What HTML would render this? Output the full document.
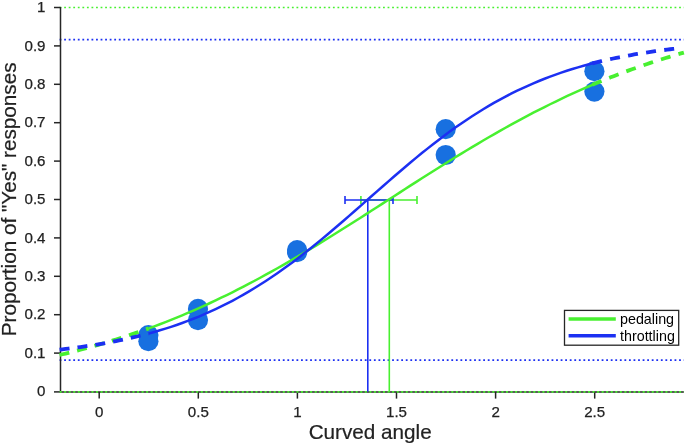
<!DOCTYPE html>
<html><head><meta charset="utf-8"><title>Psychometric curves</title>
<style>html,body{margin:0;padding:0;background:#fff}svg{display:block}</style></head>
<body>
<svg width="685" height="443" viewBox="0 0 685 443">
<rect width="685" height="443" fill="#fff"/>
<line x1="59.6" x2="683.9" y1="7.5" y2="7.5" stroke="#48f030" stroke-width="1.7" stroke-dasharray="1.8 2.755"/>
<line x1="59.6" x2="683.9" y1="39.6" y2="39.6" stroke="#1c30f2" stroke-width="1.7" stroke-dasharray="1.8 2.755"/>
<line x1="59.6" x2="683.9" y1="360.2" y2="360.2" stroke="#1c30f2" stroke-width="1.7" stroke-dasharray="1.8 2.755"/>
<g stroke="#262626" stroke-width="1.5" fill="none">
<path d="M60.5,7 V391.9 H683.9"/>
<path d="M54,391.9 H60.5"/>
<path d="M54,353.1 H60.5"/>
<path d="M54,314.7 H60.5"/>
<path d="M54,276.3 H60.5"/>
<path d="M54,237.9 H60.5"/>
<path d="M54,199.5 H60.5"/>
<path d="M54,161.1 H60.5"/>
<path d="M54,122.7 H60.5"/>
<path d="M54,84.3 H60.5"/>
<path d="M54,45.9 H60.5"/>
<path d="M54,7.5 H60.5"/>
<path d="M99.2,391.9 V398.6"/>
<path d="M198.3,391.9 V398.6"/>
<path d="M297.4,391.9 V398.6"/>
<path d="M396.5,391.9 V398.6"/>
<path d="M495.6,391.9 V398.6"/>
<path d="M594.7,391.9 V398.6"/>
</g>
<line x1="59.6" x2="683.9" y1="391.9" y2="391.9" stroke="#48f030" stroke-width="1.7" stroke-dasharray="2 2.555"/>
<g font-family="&quot;Liberation Sans&quot;, Arial, sans-serif" font-size="15.1" fill="#222" stroke="#222" stroke-width="0.25">
<text x="45.5" y="396.1" text-anchor="end">0</text>
<text x="45.5" y="357.7" text-anchor="end">0.1</text>
<text x="45.5" y="319.3" text-anchor="end">0.2</text>
<text x="45.5" y="280.9" text-anchor="end">0.3</text>
<text x="45.5" y="242.5" text-anchor="end">0.4</text>
<text x="45.5" y="204.1" text-anchor="end">0.5</text>
<text x="45.5" y="165.7" text-anchor="end">0.6</text>
<text x="45.5" y="127.3" text-anchor="end">0.7</text>
<text x="45.5" y="88.9" text-anchor="end">0.8</text>
<text x="45.5" y="50.5" text-anchor="end">0.9</text>
<text x="45.5" y="12.1" text-anchor="end">1</text>
<text x="99.2" y="416.6" text-anchor="middle">0</text>
<text x="198.3" y="416.6" text-anchor="middle">0.5</text>
<text x="297.4" y="416.6" text-anchor="middle">1</text>
<text x="396.5" y="416.6" text-anchor="middle">1.5</text>
<text x="495.6" y="416.6" text-anchor="middle">2</text>
<text x="594.7" y="416.6" text-anchor="middle">2.5</text>
</g>
<g font-family="&quot;Liberation Sans&quot;, Arial, sans-serif" font-size="20.7" fill="#222" stroke="#222" stroke-width="0.2">
<text x="370.2" y="438.8" text-anchor="middle">Curved angle</text>
<text transform="translate(15.5,199.4) rotate(-90)" text-anchor="middle">Proportion of "Yes" responses</text>
</g>
<g stroke="#48f030" stroke-width="1.6" fill="none">
<path d="M389.3,200.0 V391.5"/>
<path d="M360.9,200.0 H417 M360.9,196.0 v8 M417,196.0 v8"/>
</g>
<g stroke="#1c30f2" stroke-width="1.6" fill="none">
<path d="M367.8,200.0 V391.5"/>
<path d="M345,200.0 H393 M345,196.0 v8 M393,196.0 v8"/>
</g>
<circle cx="148.4" cy="335.1" r="10.1" fill="#1870e0"/>
<circle cx="148.4" cy="341.2" r="10.1" fill="#1870e0"/>
<circle cx="198.0" cy="308.9" r="10.1" fill="#1870e0"/>
<circle cx="198.0" cy="320.1" r="10.1" fill="#1870e0"/>
<circle cx="297.1" cy="250.1" r="10.1" fill="#1870e0"/>
<circle cx="297.1" cy="252.2" r="10.1" fill="#1870e0"/>
<circle cx="445.7" cy="129.2" r="10.1" fill="#1870e0"/>
<circle cx="445.7" cy="155.0" r="10.1" fill="#1870e0"/>
<circle cx="594.4" cy="71.2" r="10.1" fill="#1870e0"/>
<circle cx="594.4" cy="91.6" r="10.1" fill="#1870e0"/>
<path d="M148.75,328.38 L154.32,326.32 L159.90,324.21 L165.47,322.06 L171.05,319.85 L176.62,317.60 L182.20,315.29 L187.77,312.93 L193.34,310.53 L198.92,308.07 L204.49,305.56 L210.07,303.00 L215.64,300.39 L221.22,297.73 L226.79,295.02 L232.37,292.26 L237.94,289.45 L243.51,286.60 L249.09,283.70 L254.66,280.75 L260.24,277.75 L265.81,274.72 L271.39,271.63 L276.96,268.51 L282.54,265.35 L288.11,262.14 L293.68,258.90 L299.26,255.62 L304.83,252.31 L310.41,248.97 L315.98,245.59 L321.56,242.18 L327.13,238.75 L332.70,235.29 L338.28,231.81 L343.85,228.30 L349.43,224.78 L355.00,221.24 L360.58,217.68 L366.15,214.12 L371.72,210.54 L377.30,206.96 L382.87,203.37 L388.45,199.77 L394.02,196.18 L399.60,192.59 L405.17,189.00 L410.75,185.42 L416.32,181.85 L421.89,178.29 L427.47,174.75 L433.04,171.22 L438.62,167.71 L444.19,164.22 L449.77,160.75 L455.34,157.31 L460.91,153.89 L466.49,150.51 L472.06,147.15 L477.64,143.83 L483.21,140.54 L488.79,137.28 L494.36,134.07 L499.94,130.89 L505.51,127.75 L511.08,124.66 L516.66,121.61 L522.23,118.60 L527.81,115.64 L533.38,112.72 L538.96,109.85 L544.53,107.03 L550.11,104.25 L555.68,101.53 L561.25,98.85 L566.83,96.23 L572.40,93.65 L577.98,91.13 L583.55,88.65 L589.13,86.23 L594.70,83.85" stroke="#48f030" stroke-width="2.5" fill="none"/>
<path d="M59.56,354.98 L62.53,354.27 L65.51,353.54 L68.48,352.81 L71.45,352.07 L74.43,351.31 L77.40,350.54 L80.37,349.77 L83.34,348.98 L86.32,348.17 L89.29,347.36 L92.26,346.53 L95.24,345.69 L98.21,344.84 L101.18,343.98 L104.16,343.10 L107.13,342.21 L110.10,341.31 L113.07,340.39 L116.05,339.47 L119.02,338.53 L121.99,337.57 L124.97,336.60 L127.94,335.62 L130.91,334.63 L133.88,333.62 L136.86,332.60 L139.83,331.56 L142.80,330.52 L145.78,329.45 L148.75,328.38" stroke="#48f030" stroke-width="3.8" fill="none" stroke-dasharray="10 8.05"/>
<path d="M592.32,84.86 L595.37,83.57 L598.43,82.29 L601.48,81.03 L604.53,79.79 L607.58,78.56 L610.64,77.35 L613.69,76.15 L616.74,74.96 L619.79,73.79 L622.84,72.64 L625.90,71.50 L628.95,70.38 L632.00,69.27 L635.05,68.17 L638.11,67.09 L641.16,66.02 L644.21,64.97 L647.26,63.94 L650.31,62.91 L653.37,61.90 L656.42,60.91 L659.47,59.93 L662.52,58.96 L665.58,58.01 L668.63,57.07 L671.68,56.14 L674.73,55.23 L677.79,54.33 L680.84,53.45 L683.89,52.58" stroke="#48f030" stroke-width="3.8" fill="none" stroke-dasharray="10 8.3"/>
<path d="M148.75,333.47 L154.32,331.93 L159.90,330.32 L165.47,328.62 L171.05,326.84 L176.62,324.97 L182.20,323.00 L187.77,320.94 L193.34,318.79 L198.92,316.54 L204.49,314.18 L210.07,311.72 L215.64,309.15 L221.22,306.47 L226.79,303.69 L232.37,300.78 L237.94,297.77 L243.51,294.64 L249.09,291.40 L254.66,288.04 L260.24,284.56 L265.81,280.97 L271.39,277.27 L276.96,273.46 L282.54,269.54 L288.11,265.51 L293.68,261.38 L299.26,257.15 L304.83,252.83 L310.41,248.42 L315.98,243.93 L321.56,239.35 L327.13,234.71 L332.70,230.01 L338.28,225.25 L343.85,220.44 L349.43,215.60 L355.00,210.72 L360.58,205.82 L366.15,200.91 L371.72,196.00 L377.30,191.09 L382.87,186.20 L388.45,181.33 L394.02,176.49 L399.60,171.69 L405.17,166.95 L410.75,162.26 L416.32,157.63 L421.89,153.08 L427.47,148.60 L433.04,144.21 L438.62,139.91 L444.19,135.71 L449.77,131.60 L455.34,127.60 L460.91,123.70 L466.49,119.92 L472.06,116.24 L477.64,112.68 L483.21,109.23 L488.79,105.90 L494.36,102.68 L499.94,99.58 L505.51,96.60 L511.08,93.72 L516.66,90.96 L522.23,88.31 L527.81,85.77 L533.38,83.33 L538.96,81.00 L544.53,78.77 L550.11,76.64 L555.68,74.60 L561.25,72.66 L566.83,70.81 L572.40,69.05 L577.98,67.37 L583.55,65.77 L589.13,64.25 L594.70,62.81" stroke="#1c30f2" stroke-width="2.5" fill="none"/>
<path d="M59.56,349.62 L62.53,349.28 L65.51,348.93 L68.48,348.57 L71.45,348.19 L74.43,347.81 L77.40,347.41 L80.37,347.01 L83.34,346.59 L86.32,346.15 L89.29,345.71 L92.26,345.25 L95.24,344.78 L98.21,344.29 L101.18,343.79 L104.16,343.27 L107.13,342.74 L110.10,342.19 L113.07,341.63 L116.05,341.05 L119.02,340.46 L121.99,339.84 L124.97,339.21 L127.94,338.56 L130.91,337.89 L133.88,337.21 L136.86,336.50 L139.83,335.77 L142.80,335.03 L145.78,334.26 L148.75,333.47" stroke="#1c30f2" stroke-width="3.8" fill="none" stroke-dasharray="10 8.05"/>
<path d="M592.32,63.42 L595.31,62.66 L598.31,61.91 L601.30,61.19 L604.29,60.49 L607.29,59.81 L610.28,59.15 L613.27,58.51 L616.26,57.88 L619.26,57.28 L622.25,56.69 L625.24,56.11 L628.24,55.55 L631.23,55.01 L634.22,54.49 L637.21,53.98 L640.21,53.48 L643.20,53.00 L646.19,52.53 L649.19,52.08 L652.18,51.64 L655.17,51.21 L658.16,50.80 L661.16,50.40 L664.15,50.01 L667.14,49.63 L670.13,49.26 L673.13,48.90 L676.12,48.56 L679.11,48.22 L682.11,47.90" stroke="#1c30f2" stroke-width="3.8" fill="none" stroke-dasharray="10 8.3"/>
<rect x="564.5" y="310.4" width="114.2" height="34.8" fill="#fff" stroke="#262626" stroke-width="1.3"/>
<line x1="568.6" x2="615.8" y1="319" y2="319" stroke="#48f030" stroke-width="3.5"/>
<line x1="568.6" x2="615.8" y1="335.7" y2="335.7" stroke="#1c30f2" stroke-width="3.5"/>
<g font-family="&quot;Liberation Sans&quot;, Arial, sans-serif" font-size="14.3" fill="#000">
<text x="620" y="324.2">pedaling</text>
<text x="620" y="340.9">throttling</text>
</g>
</svg>
</body></html>
